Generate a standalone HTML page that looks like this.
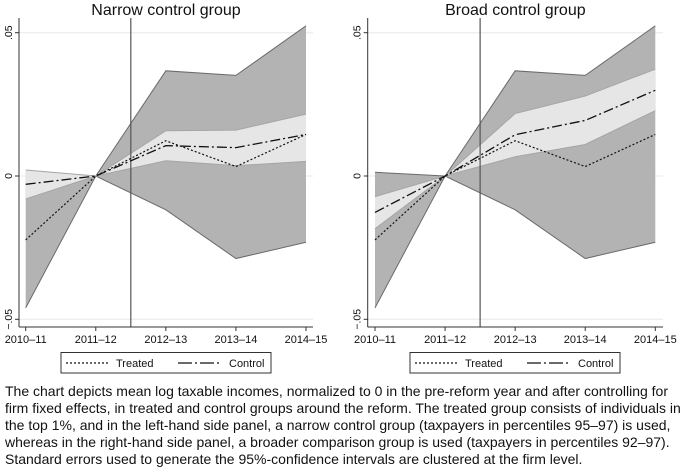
<!DOCTYPE html>
<html><head><meta charset="utf-8"><style>
body{margin:0;background:#fff;width:685px;height:474px;overflow:hidden;font-family:"Liberation Sans",Arial,sans-serif}
#cap{position:absolute;left:5px;top:383px;width:680px;font-size:14px;line-height:17px;color:#111}
</style></head><body>
<svg id="chart" width="685" height="380" style="position:absolute;left:0;top:0" font-family="Liberation Sans, Arial, sans-serif"></svg>
<div id="cap">The chart depicts mean log taxable incomes, normalized to 0 in the pre-reform year and after controlling for firm fixed effects, in treated and control groups around the reform. The treated group consists of individuals in the top 1%, and in the left-hand side panel, a narrow control group (taxpayers in percentiles 95–97) is used, whereas in the right-hand side panel, a broader comparison group is used (taxpayers in percentiles 92–97). Standard errors used to generate the 95%-confidence intervals are clustered at the firm level.</div>
<script>
const categories=["2010–11","2011–12","2012–13","2013–14","2014–15"];
const yTicks=[0.05,0,-0.05];
const yTickLabels=[".05","0","−.05"];
const treated=[-0.0223,0,0.0123,0.0033,0.0145];
const treatedLo=[-0.046,0,-0.0118,-0.0288,-0.0231];
const treatedHi=[0.0013,0,0.0367,0.0351,0.0524];
const narrowControl=[-0.0029,0,0.0106,0.0099,0.0145];
const narrowLo=[-0.008,0,0.0053,0.0036,0.0051];
const narrowHi=[0.0021,0,0.0158,0.016,0.0216];
const broadControl=[-0.0127,0,0.0144,0.0194,0.0299];
const broadLo=[-0.0184,0,0.0067,0.011,0.0228];
const broadHi=[-0.0072,0,0.0218,0.0279,0.0373];
const titles=["Narrow control group","Broad control group"];

const svg=document.getElementById('chart');
const NS='http://www.w3.org/2000/svg';
function mk(tag,attrs,parent){const e=document.createElementNS(NS,tag);for(const k in attrs)e.setAttribute(k,attrs[k]);(parent||svg).appendChild(e);return e;}
const panels=[
 {ax:19,x0:25.7,x1:306,right:313,ctrl:narrowControl,lo:narrowLo,hi:narrowHi,legX:61,name:'narrow'},
 {ax:367.7,x0:375,x1:655.3,right:663,ctrl:broadControl,lo:broadLo,hi:broadHi,legX:410,name:'broad'}
];
const yS=v=>176-v*2866;
panels.forEach((p,pi)=>{
 const g=mk('g',{});
 
 
 const xS=i=>p.x0+(p.x1-p.x0)*i/(categories.length-1);
 const t=mk('text',{x:(p.ax+p.right)/2,y:15,'text-anchor':'middle','font-size':16,fill:'#111'},g);
 t.textContent=titles[pi];
 
 
 yTicks.forEach((v,i)=>{
  const gl=mk('line',{x1:p.ax,x2:p.right,y1:yS(v),y2:yS(v),stroke:'#e8e8e8','stroke-width':1},g);
  
  
 });
 const band=(lo,hi,fill,stroke,nm)=>{
  let pts=lo.map((v,i)=>xS(i)+','+yS(v)).concat(hi.map((v,i)=>xS(i)+','+yS(v)).reverse());
  const pg=mk('polygon',{points:pts.join(' '),fill:fill,stroke:'none'},g);
  
  
  [lo,hi].forEach(a=>{mk('polyline',{points:a.map((v,i)=>xS(i)+','+yS(v)).join(' '),fill:'none',stroke:stroke,'stroke-width':1},g);});
 };
 band(treatedLo,treatedHi,'#b3b3b3','#6a6a6a','treated-ci-band');
 band(p.lo,p.hi,'#e6e6e6','#a5a5a5','control-ci-band');
 const vl=mk('line',{x1:(xS(1)+xS(2))/2,x2:(xS(1)+xS(2))/2,y1:18,y2:327,stroke:'#555','stroke-width':1.2},g);
 
 
 const tl=mk('polyline',{points:treated.map((v,i)=>xS(i)+','+yS(v)).join(' '),fill:'none',stroke:'#111','stroke-width':1.2,'stroke-dasharray':'2,2'},g);
 
 
 const cl=mk('polyline',{points:p.ctrl.map((v,i)=>xS(i)+','+yS(v)).join(' '),fill:'none',stroke:'#111','stroke-width':1.3,'stroke-dasharray':'10,3,2,3'},g);
 
 
 mk('line',{x1:p.ax,x2:p.ax,y1:18,y2:327,stroke:'#333','stroke-width':1},g);
 mk('line',{x1:p.ax,x2:p.right,y1:327,y2:327,stroke:'#333','stroke-width':1},g);
 yTicks.forEach((v,i)=>{
  mk('line',{x1:p.ax-4,x2:p.ax,y1:yS(v),y2:yS(v),stroke:'#333'},g);
  const lb=mk('text',{x:0,y:0,transform:`translate(${p.ax-7},${yS(v)}) rotate(-90)`,'text-anchor':'middle','font-size':10.5,fill:'#111'},g);
  lb.textContent=yTickLabels[i];
  
  
 });
 categories.forEach((c,i)=>{
  mk('line',{x1:xS(i),x2:xS(i),y1:327,y2:331,stroke:'#333'},g);
  const lb=mk('text',{x:xS(i),y:343,'text-anchor':'middle','font-size':11,fill:'#111'},g);
  lb.textContent=c;
  
  
 });
 const lg=mk('g',{},g);
 
 
 mk('rect',{x:p.legX,y:352.5,width:210,height:20.5,fill:'#fff',stroke:'#333','stroke-width':1},lg);
 mk('line',{x1:p.legX+5,x2:p.legX+47,y1:363,y2:363,stroke:'#111','stroke-width':1.2,'stroke-dasharray':'2,2'},lg);
 const t1=mk('text',{x:p.legX+55,y:367,'font-size':11,fill:'#111'},lg);t1.textContent='Treated';
 
 
 mk('line',{x1:p.legX+117,x2:p.legX+160,y1:363,y2:363,stroke:'#111','stroke-width':1.3,'stroke-dasharray':'14,3,2,3'},lg);
 const t2=mk('text',{x:p.legX+168,y:367,'font-size':11,fill:'#111'},lg);t2.textContent='Control';
 
 
});
</script>
</body></html>
